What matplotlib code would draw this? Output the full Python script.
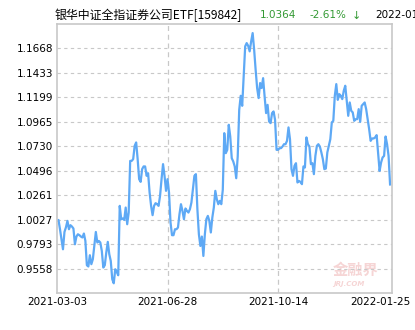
import matplotlib
matplotlib.use('Agg')
import matplotlib.pyplot as plt
import matplotlib.transforms as mtransforms
import numpy as np

# NAV series (one value per trading day, 2021-03-03 .. 2022-01-25)
nav = [
    1.0015, 1.0024, 0.9935, 0.9839, 0.9743, 0.9909, 0.9954, 1.0015, 0.9935, 0.9974,
    0.9961, 0.9942, 0.9791, 0.9865, 0.9887, 0.9878, 0.9865, 0.9856, 0.9894, 0.9823,
    0.9590, 0.9578, 0.9686, 0.9600, 0.9648, 0.9775, 0.9909, 0.9808, 0.9823, 0.9808,
    0.9727, 0.9568, 0.9590, 0.9712, 0.9814, 0.9696, 0.9631, 0.9456, 0.9417, 0.9552,
    0.9526, 0.9494, 1.0159, 1.0031, 1.0038, 1.0024, 1.0143, 0.9983, 1.0095, 1.0590,
    1.0590, 1.0607, 1.0734, 1.0767, 1.0607, 1.0415, 1.0389, 1.0511, 1.0537, 1.0537,
    1.0447, 1.0472, 1.0287, 1.0159, 1.0070, 1.0159, 1.0185, 1.0175, 1.0159, 1.0255,
    1.0415, 1.0559, 1.0447, 1.0303, 1.0415, 1.0287, 1.0002,
    0.9878, 0.9878, 0.9935, 0.9935, 0.9952, 1.0079, 1.0175, 1.0111, 1.0031, 1.0134,
    1.0111, 1.0095, 1.0127, 1.0191, 1.0319, 1.0447, 1.0463, 1.0127, 0.9887, 0.9775,
    0.9865, 0.9679, 0.9887, 1.0031, 1.0063, 1.0015, 0.9904, 1.0047, 1.0143, 1.0303,
    1.0223, 1.0175, 1.0207, 1.0175, 1.0312, 1.0856,
    1.0664, 1.0696, 1.0936, 1.0824, 1.0616, 1.0585, 1.0537, 1.0424, 1.0633, 1.1079,
    1.1214, 1.1118, 1.1400, 1.1688, 1.1719, 1.1693, 1.1640, 1.1735, 1.1815, 1.1655,
    1.1463, 1.1288, 1.1192, 1.1336, 1.1288, 1.1383, 1.1208, 1.1048, 1.1127, 1.0968,
    1.0952, 1.1048, 1.1064, 1.0984, 1.0696, 1.0696, 1.0712, 1.0712, 1.0728,
    1.0750, 1.0750, 1.0782, 1.0911, 1.0798, 1.0511, 1.0447, 1.0542, 1.0568, 1.0383,
    1.0398, 1.0389, 1.0367, 1.0537, 1.0527, 1.0815, 1.0750, 1.0728, 1.0559, 1.0568,
    1.0463, 1.0638, 1.0734, 1.0750, 1.0728, 1.0671, 1.0607, 1.0511, 1.0517, 1.0671,
    1.0734, 1.0798, 1.0959, 1.0974,
    1.1214, 1.1326, 1.1175, 1.1230, 1.1214, 1.1182, 1.1262, 1.1310, 1.1166, 1.1022,
    1.1150, 1.1070, 1.1055, 1.0974, 1.0990, 1.0990, 1.1086, 1.0964, 1.1118, 1.1134,
    1.1150, 1.1086, 1.0990, 1.0894, 1.0782, 1.0805, 1.0805, 1.0815, 1.0837, 1.0671,
    1.0494, 1.0575, 1.0623, 1.0638, 1.0824, 1.0750, 1.0638, 1.0364,
]

y_ticks = [0.9558, 0.9793, 1.0027, 1.0261, 1.0496, 1.0730, 1.0965, 1.1199, 1.1433, 1.1668]
y_min, y_max = 0.9324, 1.1902
x_labels = ['2021-03-03', '2021-06-28', '2021-10-14', '2022-01-25']
x_label_idx = [0, 74, 148, len(nav) - 1]

fund_name = '银华中证全指证券公司ETF[159842]'
last_nav = '1.0364'
change = '-2.61%'
last_date = '2022-01-25'

grid_c = '#c8c8c8'
green = '#339933'

W, H = 415, 330
fig = plt.figure(figsize=(W / 100, H / 100), dpi=100)
ax = fig.add_axes([57 / W, (H - 293) / H, 335 / W, 269 / H])

x = np.arange(len(nav))
ax.plot(x, nav, color='#5ea9f5', lw=1.6, solid_joinstyle='round')

ax.set_ylim(y_min, y_max)
ax.set_xlim(0, len(nav) - 1 + 1.3)
ax.set_yticks(y_ticks)
ax.set_yticklabels([f'{v:.4f}' for v in y_ticks])
ax.set_xticks(x_label_idx)
ax.set_xticklabels(x_labels)
ax.tick_params(length=0, labelsize=7.5, pad=3, colors='black')
lbls = ax.get_xticklabels()
lbls[-1].set_ha('right')
lbls[-1].set_transform(lbls[-1].get_transform() +
                       mtransforms.ScaledTranslation(0.2, 0, fig.dpi_scale_trans))

ax.grid(axis='y', color=grid_c, ls=(0, (3, 3)), lw=0.8)
for xi in x_label_idx[1:3]:
    ax.axvline(xi, color=grid_c, ls=(0, (4, 3)), lw=0.9, zorder=0)
for s in ax.spines.values():
    s.set_color(grid_c)
    s.set_linewidth(1.2)

# watermark
ax.text(333 / W, 1 - 270 / H, '金融界', transform=fig.transFigure, fontsize=11,
        family=['Noto Sans CJK SC'], fontweight='bold', color='#f6d5d5',
        va='center', ha='left', zorder=0)
ax.text(333 / W, 1 - 284 / H, 'JRJ.COM', transform=fig.transFigure, fontsize=5,
        style='italic', fontweight='bold', color='#f6d5d5', va='center', ha='left', zorder=0)

# header line
ty = 1 - 15.5 / H
fig.text(55 / W, ty, fund_name, family=['Noto Sans CJK SC', 'DejaVu Sans'],
         fontsize=8.6, va='center', ha='left')
fig.text(260 / W, ty, last_nav, fontsize=7.5, color=green, va='center', ha='left')
fig.text(309 / W, ty, change, fontsize=7.5, color=green, va='center', ha='left')
fig.text(352 / W, ty, '↓', fontsize=8, color=green, va='center', ha='left')
fig.text(375 / W, ty, last_date, fontsize=7.5, va='center', ha='left')

fig.savefig('out.png', dpi=100)
